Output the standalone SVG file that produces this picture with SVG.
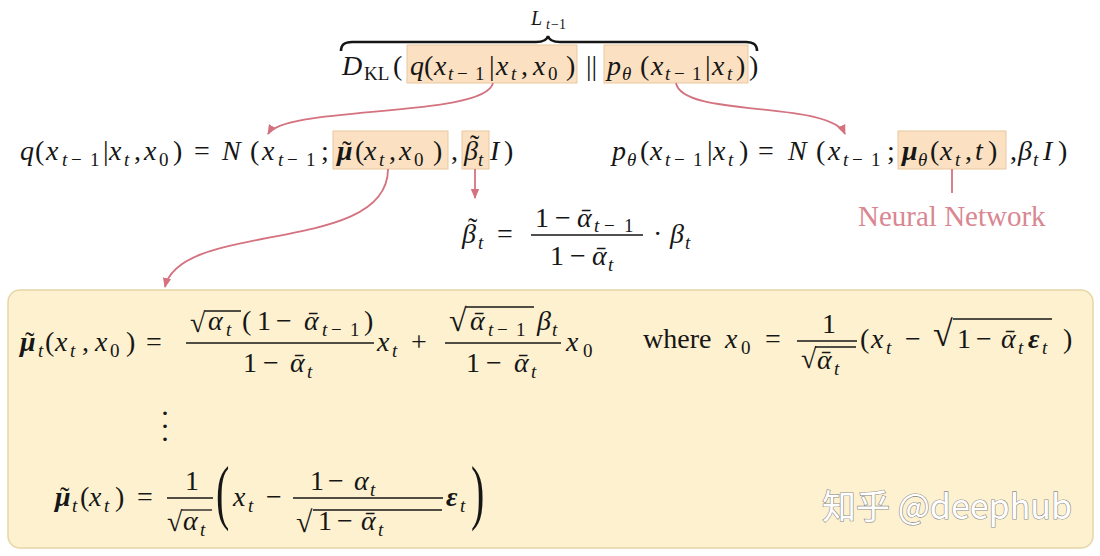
<svg xmlns="http://www.w3.org/2000/svg" width="1100" height="556" viewBox="0 0 1100 556">
<defs>
<style>
text{font-family:"Liberation Serif",serif;fill:#161616;font-size:28px}
.i{font-style:italic}
.b{font-style:italic;font-weight:bold}
.s{font-size:19px}
.xs{font-size:14px}
.l{font-size:20px}
.bp{font-size:40px}
.r32{font-size:32px}
.r30{font-size:30px}
.r36{font-size:36px}
.hl{fill:#fbe1c2;stroke:#e9c89e;stroke-width:1}
.arr{fill:none;stroke:#d4737f;stroke-width:1.8;marker-end:url(#ah)}
.bar{stroke:#161616;stroke-width:1.3}
.nn{font-family:"Liberation Serif",serif;fill:#d98792;font-size:29px}
.dot{font-size:30px}
.wm{font-family:"Noto Sans CJK SC","Noto Sans",sans-serif;font-size:34px;fill:#ffffff;stroke:#8a8a8a;stroke-width:1.2;paint-order:stroke}
</style>
<marker id="ah" markerWidth="10" markerHeight="10" refX="9" refY="5" orient="auto" markerUnits="userSpaceOnUse"><path d="M0,0.8 L10,5 L0,9.2 z" fill="#d4737f"/></marker>
</defs>
<rect width="1100" height="556" fill="#ffffff"/>

<g id="kl-term">
<rect class="hl" x="407" y="45" width="170" height="38"/>
<rect class="hl" x="604" y="45" width="144" height="38"/>
<path d="M341,51 C341,44 345,42 352,42 L536,42 C543,42 547,40 548,36 C549,40 553,42 560,42 L746,42 C753,42 757,44 757,51" fill="none" stroke="#161616" stroke-width="2.6"/>
<text><tspan class="i l" x="531" y="25">L</tspan><tspan class="i xs" x="546" y="29">t</tspan><tspan class="xs" x="551" y="29">−1</tspan></text>
<text><tspan class="i" x="342" y="75">D</tspan><tspan class="s" x="364" y="80">KL</tspan><tspan x="393" y="75">(</tspan><tspan class="i" x="410" y="75">q</tspan><tspan x="424" y="75">(</tspan><tspan class="i" x="434" y="75">x</tspan><tspan class="s i" x="448" y="80">t</tspan><tspan class="s" x="457" y="80">−</tspan><tspan class="s" x="475" y="80">1</tspan><tspan x="489" y="75">|</tspan><tspan class="i" x="496" y="75">x</tspan><tspan class="s i" x="511" y="80">t</tspan><tspan x="521" y="75">,</tspan><tspan class="i" x="533" y="75">x</tspan><tspan class="s" x="548" y="80">0</tspan><tspan x="566" y="75">)</tspan><tspan x="586" y="75">||</tspan><tspan class="i" x="607" y="75">p</tspan><tspan class="s i" x="622" y="80">θ</tspan><tspan x="640" y="75">(</tspan><tspan class="i" x="651" y="75">x</tspan><tspan class="s i" x="665" y="80">t</tspan><tspan class="s" x="674" y="80">−</tspan><tspan class="s" x="692" y="80">1</tspan><tspan x="705" y="75">|</tspan><tspan class="i" x="712" y="75">x</tspan><tspan class="s i" x="727" y="80">t</tspan><tspan x="736" y="75">)</tspan><tspan x="749" y="75">)</tspan></text>
</g>

<g id="q-posterior">
<rect class="hl" x="333" y="131" width="115" height="38"/>
<rect class="hl" x="462" y="131" width="27" height="38"/>
<text><tspan class="i" x="20" y="160">q</tspan><tspan x="35" y="160">(</tspan><tspan class="i" x="46" y="160">x</tspan><tspan class="s i" x="62" y="166">t</tspan><tspan class="s" x="71" y="166">−</tspan><tspan class="s" x="90" y="166">1</tspan><tspan x="103" y="160">|</tspan><tspan class="i" x="109" y="160">x</tspan><tspan class="s i" x="124" y="166">t</tspan><tspan x="134" y="160">,</tspan><tspan class="i" x="144" y="160">x</tspan><tspan class="s" x="159" y="166">0</tspan><tspan x="173" y="160">)</tspan><tspan x="194" y="160">=</tspan><tspan class="i" x="222" y="160">N</tspan><tspan x="250" y="160">(</tspan><tspan class="i" x="262" y="160">x</tspan><tspan class="s i" x="278" y="166">t</tspan><tspan class="s" x="287" y="166">−</tspan><tspan class="s" x="306" y="166">1</tspan><tspan x="321" y="160">;</tspan><tspan class="b" x="337" y="160">μ</tspan><tspan x="342" y="160">˜</tspan><tspan x="355" y="160">(</tspan><tspan class="i" x="364" y="160">x</tspan><tspan class="s i" x="379" y="166">t</tspan><tspan x="389" y="160">,</tspan><tspan class="i" x="399" y="160">x</tspan><tspan class="s" x="414" y="166">0</tspan><tspan x="433" y="160">)</tspan><tspan x="451" y="160">,</tspan><tspan class="i" x="464" y="160">β</tspan><tspan x="470" y="154">˜</tspan><tspan class="s i" x="478" y="166">t</tspan><tspan class="i" x="490" y="160">I</tspan><tspan x="504" y="160">)</tspan></text>
</g>

<g id="p-model">
<rect class="hl" x="898" y="131" width="108" height="38"/>
<text><tspan class="i" x="612" y="160">p</tspan><tspan class="s i" x="627" y="166">θ</tspan><tspan x="640" y="160">(</tspan><tspan class="i" x="650" y="160">x</tspan><tspan class="s i" x="665" y="166">t</tspan><tspan class="s" x="674" y="166">−</tspan><tspan class="s" x="693" y="166">1</tspan><tspan x="707" y="160">|</tspan><tspan class="i" x="713" y="160">x</tspan><tspan class="s i" x="728" y="166">t</tspan><tspan x="739" y="160">)</tspan><tspan x="758" y="160">=</tspan><tspan class="i" x="788" y="160">N</tspan><tspan x="816" y="160">(</tspan><tspan class="i" x="828" y="160">x</tspan><tspan class="s i" x="843" y="166">t</tspan><tspan class="s" x="852" y="166">−</tspan><tspan class="s" x="871" y="166">1</tspan><tspan x="887" y="160">;</tspan><tspan class="b" x="902" y="160">μ</tspan><tspan class="s i" x="918" y="166">θ</tspan><tspan x="930" y="160">(</tspan><tspan class="i" x="940" y="160">x</tspan><tspan class="s i" x="955" y="166">t</tspan><tspan x="965" y="160">,</tspan><tspan class="i" x="975" y="160">t</tspan><tspan x="988" y="160">)</tspan><tspan x="1010" y="160">,</tspan><tspan class="i" x="1018" y="160">β</tspan><tspan class="s i" x="1033" y="166">t</tspan><tspan class="i" x="1043" y="160">I</tspan><tspan x="1058" y="160">)</tspan></text>
</g>

<g id="neural-network">
<text class="nn" x="858" y="226">Neural Network</text>
</g>

<g id="beta-tilde">
<line class="bar" x1="531" y1="235" x2="643" y2="235"/>
<text><tspan class="i" x="462" y="243">β</tspan><tspan x="468" y="237">˜</tspan><tspan class="s i" x="478" y="249">t</tspan><tspan x="497" y="243">=</tspan><tspan x="535" y="227">1</tspan><tspan x="555" y="227">−</tspan><tspan class="i" x="577" y="227">α&#x304;</tspan><tspan class="s i" x="594" y="232">t</tspan><tspan class="s" x="604" y="232">−</tspan><tspan class="s" x="624" y="232">1</tspan><tspan x="550" y="265">1</tspan><tspan x="570" y="265">−</tspan><tspan class="i" x="592" y="265">α&#x304;</tspan><tspan class="s i" x="608" y="271">t</tspan><tspan x="653" y="243">·</tspan><tspan class="i" x="670" y="243">β</tspan><tspan class="s i" x="685" y="249">t</tspan></text>
</g>

<g id="mean-box">
<rect x="8" y="290" width="1085" height="258" rx="12" fill="#fdf1cf" stroke="#e6d6a6" stroke-width="1.5"/>
<line class="bar" x1="186" y1="343" x2="374" y2="343"/>
<line class="bar" x1="445" y1="343" x2="561" y2="343"/>
<line class="bar" x1="205" y1="311" x2="241" y2="311"/>
<line class="bar" x1="466" y1="307" x2="534" y2="307"/>
<text><tspan class="b" x="20" y="351">μ</tspan><tspan x="25" y="351">˜</tspan><tspan class="s i" x="38" y="357">t</tspan><tspan x="45" y="351">(</tspan><tspan class="i" x="55" y="351">x</tspan><tspan class="s i" x="70" y="357">t</tspan><tspan x="82" y="351">,</tspan><tspan class="i" x="95" y="351">x</tspan><tspan class="s" x="110" y="357">0</tspan><tspan x="126" y="351">)</tspan><tspan x="146" y="351">=</tspan><tspan x="190" y="332">√</tspan><tspan class="i" x="208" y="330">α</tspan><tspan class="s i" x="226" y="336">t</tspan><tspan x="242" y="330">(</tspan><tspan x="257" y="330">1</tspan><tspan x="276" y="330">−</tspan><tspan class="i" x="304" y="330">α&#x304;</tspan><tspan class="s i" x="322" y="336">t</tspan><tspan class="s" x="331" y="336">−</tspan><tspan class="s" x="350" y="336">1</tspan><tspan x="364" y="330">)</tspan><tspan x="243" y="372">1</tspan><tspan x="263" y="372">−</tspan><tspan class="i" x="290" y="372">α&#x304;</tspan><tspan class="s i" x="307" y="378">t</tspan><tspan class="i" x="377" y="351">x</tspan><tspan class="s i" x="392" y="357">t</tspan><tspan x="411" y="351">+</tspan><tspan class="r32" x="449" y="331">√</tspan><tspan class="i" x="470" y="330">α&#x304;</tspan><tspan class="s i" x="488" y="336">t</tspan><tspan class="s" x="497" y="336">−</tspan><tspan class="s" x="516" y="336">1</tspan><tspan class="i" x="537" y="330">β</tspan><tspan class="s i" x="552" y="336">t</tspan><tspan x="466" y="372">1</tspan><tspan x="486" y="372">−</tspan><tspan class="i" x="514" y="372">α&#x304;</tspan><tspan class="s i" x="531" y="378">t</tspan><tspan class="i" x="566" y="351">x</tspan><tspan class="s" x="583" y="357">0</tspan></text>

<line class="bar" x1="797" y1="341" x2="857" y2="341"/>
<line class="bar" x1="815" y1="347" x2="856" y2="347"/>
<line class="bar" x1="953" y1="319" x2="1052" y2="319"/>
<text><tspan x="643" y="348">where</tspan><tspan class="i" x="725" y="348">x</tspan><tspan class="s" x="741" y="354">0</tspan><tspan x="765" y="348">=</tspan><tspan x="822" y="333">1</tspan><tspan x="801" y="368">√</tspan><tspan class="i" x="817" y="369">α&#x304;</tspan><tspan class="s i" x="834" y="375">t</tspan><tspan x="860" y="348">(</tspan><tspan class="i" x="871" y="348">x</tspan><tspan class="s i" x="886" y="354">t</tspan><tspan x="905" y="348">−</tspan><tspan class="r36" x="933" y="346">√</tspan><tspan x="957" y="348">1</tspan><tspan x="976" y="348">−</tspan><tspan class="i" x="1001" y="348">α&#x304;</tspan><tspan class="s i" x="1018" y="354">t</tspan><tspan class="b" x="1028" y="348">ε</tspan><tspan class="s i" x="1042" y="354">t</tspan><tspan x="1063" y="348">)</tspan></text>

<text class="dot" text-anchor="middle"><tspan x="165" y="415">.</tspan><tspan x="165" y="428">.</tspan><tspan x="165" y="441">.</tspan></text>

<line class="bar" x1="167" y1="498" x2="213" y2="498"/>
<line class="bar" x1="182" y1="510" x2="212" y2="510"/>
<line class="bar" x1="293" y1="498" x2="443" y2="498"/>
<line class="bar" x1="313" y1="510" x2="442" y2="510"/>
<text><tspan class="b" x="55" y="506">μ</tspan><tspan x="60" y="506">˜</tspan><tspan class="s i" x="72" y="512">t</tspan><tspan x="80" y="506">(</tspan><tspan class="i" x="89" y="506">x</tspan><tspan class="s i" x="104" y="512">t</tspan><tspan x="115" y="506">)</tspan><tspan x="137" y="506">=</tspan><tspan x="185" y="490">1</tspan><tspan x="167" y="531">√</tspan><tspan class="i" x="183" y="530">α</tspan><tspan class="s i" x="200" y="536">t</tspan><tspan class="i" x="233" y="506">x</tspan><tspan class="s i" x="248" y="512">t</tspan><tspan x="266" y="506">−</tspan><tspan x="310" y="490">1</tspan><tspan x="328" y="490">−</tspan><tspan class="i" x="354" y="490">α</tspan><tspan class="s i" x="370" y="496">t</tspan><tspan class="r30" x="296" y="532">√</tspan><tspan x="318" y="530">1</tspan><tspan x="337" y="530">−</tspan><tspan class="i" x="361" y="530">α&#x304;</tspan><tspan class="s i" x="378" y="536">t</tspan><tspan class="b" x="446" y="506">ε</tspan><tspan class="s i" x="460" y="512">t</tspan></text>
<text class="bp" transform="translate(216,516) scale(1,1.8)">(</text>
<text class="bp" transform="translate(471,516) scale(1,1.8)">)</text>
</g>

<g id="watermark">
<text class="wm" x="822" y="519" textLength="250">知乎 @deephub</text>
</g>

<g id="connectors">
<path class="arr" d="M493,83 C485,118 285,105 268,134"/>
<path class="arr" d="M676,83 C682,118 830,100 845,134"/>
<path class="arr" d="M388,169 C388,255 180,220 165,287"/>
<path class="arr" d="M475,169 L475,198"/>
<line x1="952" y1="169" x2="952" y2="193" stroke="#d4737f" stroke-width="1.8"/>
</g>
</svg>
